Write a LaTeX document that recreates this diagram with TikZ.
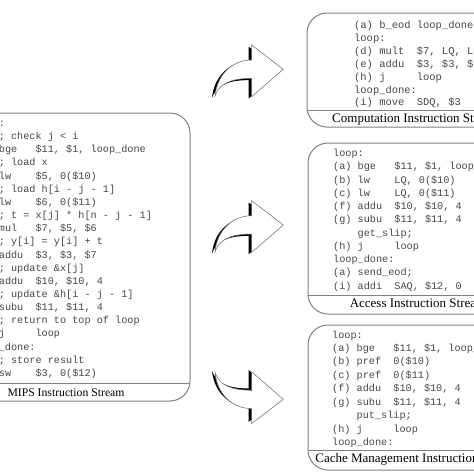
\documentclass[tikz,border=0pt]{standalone}
\usepackage{fontspec}
\setmainfont{Liberation Serif}
\newfontfamily\codefont{Liberation Mono}
\tikzset{
  codeline/.style={anchor=base west, inner sep=0pt, font=\codefont\fontsize{10.2}{12}\selectfont, text=black!72},
  codebig/.style={codeline, font=\codefont\fontsize{10.45}{12}\selectfont},
  captext/.style={anchor=base, inner sep=0pt, font=\fontsize{11.7}{14}\selectfont, text=black},
  capbig/.style={captext, font=\fontsize{13}{15}\selectfont},
  boxline/.style={draw=black!50, line width=1pt, rounded corners=20pt},
  sepline/.style={draw=black!50, line width=0.9pt},
  bentarrow/.pic={
    \fill[black, shift={(-3,1.8)}] (-68.3,26.7) .. controls (-66.3,5.7) and (-51.3,-9.3) .. (-31.6,-9.3) -- (-31.6,-24.3) -- (0,0) -- (-31.6,27.4) -- (-31.6,9) .. controls (-55.3,9.2) and (-64.3,15.7) .. cycle;
    \filldraw[fill=white, draw=black!60, line width=0.5pt] (-68.3,26.7) .. controls (-66.3,5.7) and (-51.3,-9.3) .. (-31.6,-9.3) -- (-31.6,-24.3) -- (0,0) -- (-31.6,27.4) -- (-31.6,9) .. controls (-55.3,9.2) and (-64.3,15.7) .. cycle;
  }
}
\begin{document}
\begin{tikzpicture}[x=1pt,y=-1pt]
\useasboundingbox (0,0) rectangle (474,474);
\clip (0,0) rectangle (474,474);
\fill[white] (0,0) rectangle (474,474);

% left box
\draw[boxline] (-70,113) -- (190,113) -- (190,401) -- (-70,401);
\draw[sepline] (-70,383) -- (190,383);
\foreach \t [count=\i from 0] in {
  {loop:},
  {~~~~;~check~j~<~i},
  {~~~~bge~~~\$11,~\$1,~loop\_done},
  {~~~~;~load~x},
  {~~~~lw~~~~\$5,~0(\$10)},
  {~~~~;~load~h[i~-~j~-~1]},
  {~~~~lw~~~~\$6,~0(\$11)},
  {~~~~;~t~=~x[j]~*~h[n~-~j~-~1]},
  {~~~~mul~~~\$7,~\$5,~\$6},
  {~~~~;~y[i]~=~y[i]~+~t},
  {~~~~addu~~\$3,~\$3,~\$7},
  {~~~~;~update~\&x[j]},
  {~~~~addu~~\$10,~\$10,~4},
  {~~~~;~update~\&h[i~-~j~-~1]},
  {~~~~subu~~\$11,~\$11,~4},
  {~~~~;~return~to~top~of~loop},
  {~~~~j~~~~~loop},
  {loop\_done:},
  {~~~~;~store~result},
  {~~~~sw~~~~\$3,~0(\$12)}}
  \node[codeline] (m\i) at (-25.8, 126.5+13.15*\i) {\t};
\node[captext] (mcap) at (66,396) {MIPS Instruction Stream};

% top right box
\draw[boxline] (560,13) -- (307,13) -- (307,127) -- (560,127);
\draw[sepline] (307,110) -- (560,110);
\foreach \t [count=\i from 0] in {
  {(a)~b\_eod~loop\_done},
  {loop:},
  {(d)~mult~~\$7,~LQ,~LQ},
  {(e)~addu~~\$3,~\$3,~\$7},
  {(h)~j~~~~~loop},
  {loop\_done:},
  {(i)~move~~SDQ,~\$3}}
  \node[codebig] (c\i) at (354, 28.5+12.9*\i) {\t};
\node[capbig] (ccap) at (416,122.3) {Computation Instruction Stream};

% middle right box
\draw[boxline] (560,143) -- (308,143) -- (308,314) -- (560,314);
\draw[sepline] (308,295) -- (560,295);
\foreach \t [count=\i from 0] in {
  {loop:},
  {(a)~bge~~~\$11,~\$1,~loop\_done},
  {(b)~lw~~~~LQ,~0(\$10)},
  {(c)~lw~~~~LQ,~0(\$11)},
  {(f)~addu~~\$10,~\$10,~4},
  {(g)~subu~~\$11,~\$11,~4},
  {~~~~get\_slip;},
  {(h)~j~~~~~loop},
  {loop\_done:},
  {(a)~send\_eod;},
  {(i)~addi~~SAQ,~\$12,~0}}
  \node[codeline] (a\i) at (333, 156.5+13.25*\i) {\t};
\node[capbig] (acap) at (418,307.3) {Access Instruction Stream};

% bottom right box
\draw[boxline] (560,325) -- (308,325) -- (308,470) -- (560,470);
\draw[sepline] (308,450) -- (560,450);
\foreach \t [count=\i from 0] in {
  {loop:},
  {(a)~bge~~~\$11,~\$1,~loop\_done},
  {(b)~pref~~0(\$10)},
  {(c)~pref~~0(\$11)},
  {(f)~addu~~\$10,~\$10,~4},
  {(g)~subu~~\$11,~\$11,~4},
  {~~~~put\_slip;},
  {(h)~j~~~~~loop},
  {loop\_done:}}
  \node[codeline] (k\i) at (332, 338+13.45*\i) {\t};
\node[capbig] (kcap) at (417,462.3) {Cache Management Instruction Stream};

% arrows
\pic at (283.3,69.3) {bentarrow};
\pic at (283.3,225) {bentarrow};
\pic[yscale=-1] at (283.3,399.3) {bentarrow};
\end{tikzpicture}
\end{document}
